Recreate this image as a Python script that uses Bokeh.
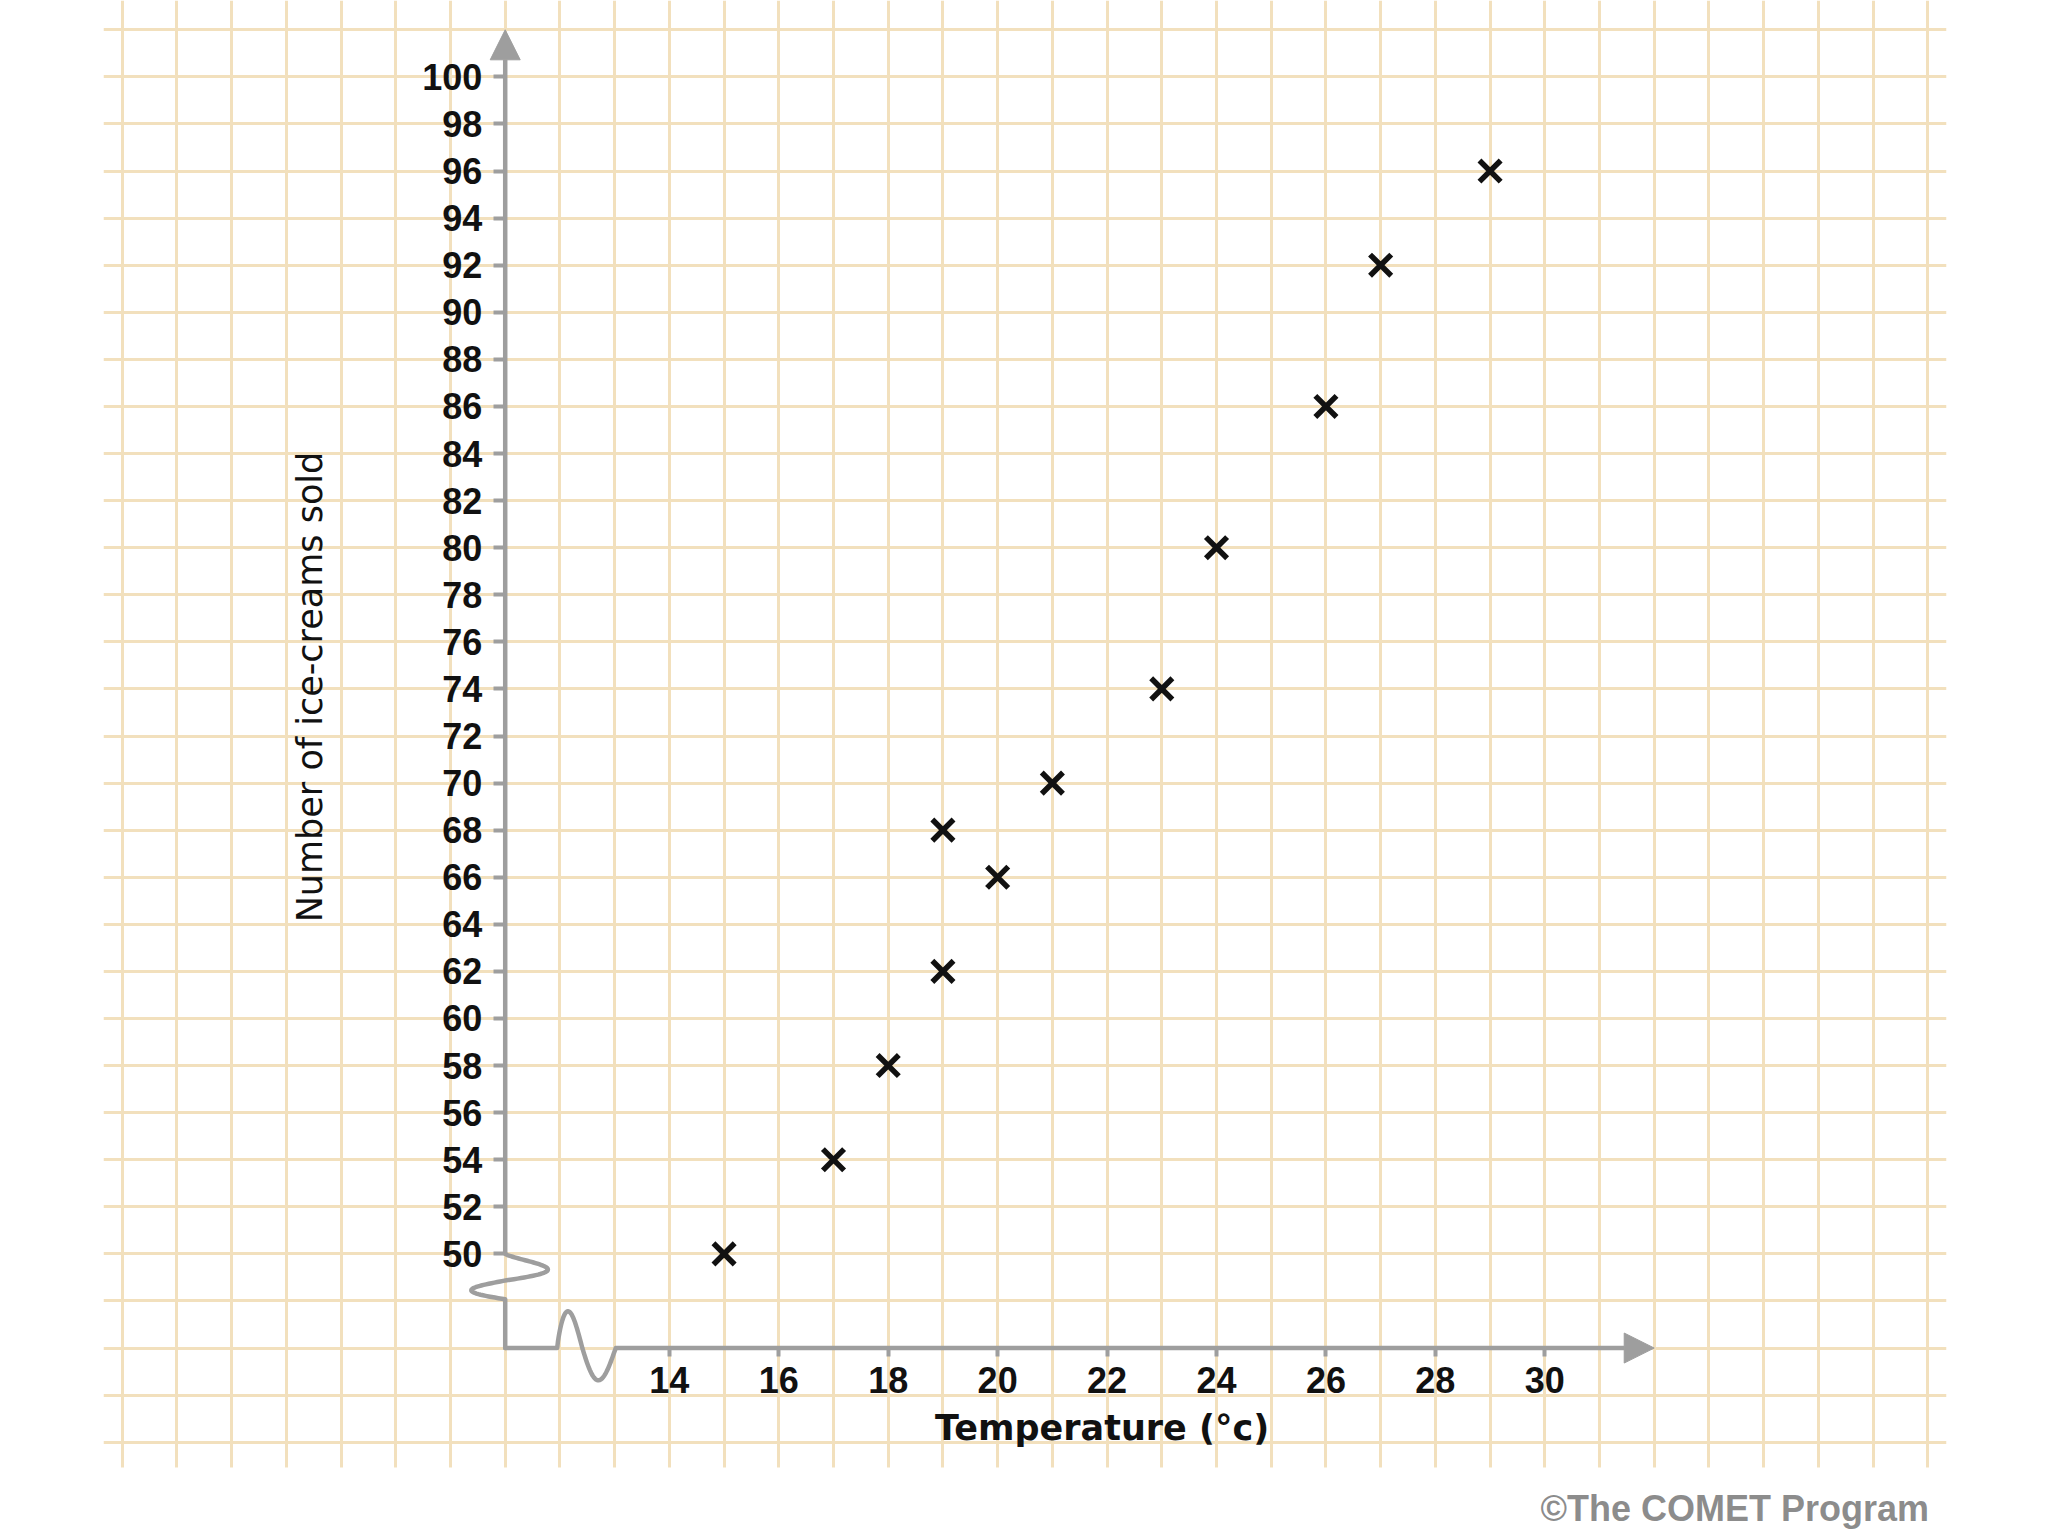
import numpy as np
from bokeh.plotting import figure
from bokeh.models import FixedTicker, Arrow, NormalHead, Label, Range1d, BoxAnnotation
from bokeh.embed import file_html
from bokeh.resources import INLINE

# ---- data ----
temperature = [15, 17, 18, 19, 19, 20, 21, 23, 24, 26, 27, 29]
ice_creams = [50, 54, 58, 62, 68, 66, 70, 74, 80, 86, 92, 96]
x_ticks = [14, 16, 18, 20, 22, 24, 26, 28, 30]
y_ticks = list(range(50, 101, 2))
x_grid = list(range(4, 38))
y_grid = list(range(42, 103, 2))
x_title = "Temperature (°c)"
y_title = "Number of ice-creams sold"
credit = "©The COMET Program"

# axis geometry (data units)
AXIS_X = 11      # where the vertical axis sits
AXIS_Y = 46      # where the horizontal axis sits
X_END = 32
Y_END = 102
Y_BREAK = (48.07, 50)
X_BREAK = (11.95, 13.02)
PAPER_BOTTOM = 40.925

AX = "#9e9e9e"
GRID = "#f2e0bd"

p = figure(width=2048, height=1536,
           x_range=Range1d(3.658, 37.342), y_range=Range1d(37.994, 103.245),
           output_backend="svg", toolbar_location=None, title=None,
           min_border_left=103, min_border_right=102,
           min_border_top=0, min_border_bottom=0)
p.background_fill_color = "white"
p.border_fill_color = "white"
p.outline_line_color = None

# grid
p.xgrid.ticker = FixedTicker(ticks=x_grid)
p.ygrid.ticker = FixedTicker(ticks=y_grid)
for g in (p.xgrid, p.ygrid):
    g.grid_line_color = GRID
    g.grid_line_width = 3
    g.grid_line_alpha = 1.0

# white strip below the graph paper
p.add_layout(BoxAnnotation(top=PAPER_BOTTOM, fill_color="white", fill_alpha=1.0,
                           line_color=None, level="underlay"))

# axes positioned inside the frame
p.xaxis.fixed_location = AXIS_Y
p.yaxis.fixed_location = AXIS_X
p.xaxis.ticker = FixedTicker(ticks=x_ticks)
p.yaxis.ticker = FixedTicker(ticks=y_ticks)
for ax in (p.xaxis, p.yaxis):
    ax.axis_line_color = None
    ax.major_tick_line_color = AX
    ax.major_tick_line_width = 4
    ax.major_tick_in = 0
    ax.minor_tick_line_color = None
    ax.major_label_text_font = "Liberation Sans"
    ax.major_label_text_font_style = "bold"
    ax.major_label_text_font_size = "36px"
    ax.major_label_text_color = "#111111"
p.xaxis.major_tick_out = 8
p.xaxis.major_label_standoff = 11
p.yaxis.major_tick_out = 12
p.yaxis.major_label_standoff = 11

# vertical axis with break squiggle
t = np.linspace(0, 1, 80)
s = t ** 1.3
sv = np.sin(2 * np.pi * s)
sq_x = AXIS_X + np.where(sv > 0, 0.78, 0.62) * sv
sq_y = Y_BREAK[1] - (Y_BREAK[1] - Y_BREAK[0]) * t
vx = [AXIS_X] + list(sq_x[::-1])
vy = [AXIS_Y] + list(sq_y[::-1])
p.line(vx, vy, line_color=AX, line_width=4.5, line_join="round", line_cap="round")
p.add_layout(Arrow(end=NormalHead(size=30, fill_color=AX, line_color=AX, line_width=1),
                   x_start=AXIS_X, y_start=Y_BREAK[1], x_end=AXIS_X, y_end=Y_END,
                   line_color=AX, line_width=4.5))

# horizontal axis with break squiggle
s2 = t ** 0.82
sh = np.sin(2 * np.pi * s2)
hx = [AXIS_X] + list(X_BREAK[0] + (X_BREAK[1] - X_BREAK[0]) * t)
hy = [AXIS_Y] + list(AXIS_Y + np.where(sh > 0, 1.56, 1.37) * sh)
p.line(hx, hy, line_color=AX, line_width=4.5, line_join="round", line_cap="round")
p.add_layout(Arrow(end=NormalHead(size=30, fill_color=AX, line_color=AX, line_width=1),
                   x_start=X_BREAK[1], y_start=AXIS_Y, x_end=X_END, y_end=AXIS_Y,
                   line_color=AX, line_width=4.5))

# points
p.scatter(temperature, ice_creams, marker="x", size=30, line_width=5.5, line_color="#111111")

# axis titles
p.add_layout(Label(x=21.91, y=42.62, text=x_title, text_font="DejaVu Sans",
                   text_font_style="bold", text_font_size="35px", text_color="#111111",
                   text_align="center", text_baseline="alphabetic"))
p.add_layout(Label(x=7.44, y=74.08, text=y_title, angle=np.pi / 2, text_font="DejaVu Sans",
                   text_font_size="35px", text_color="#111111",
                   text_align="center", text_baseline="alphabetic"))
p.add_layout(Label(x=29.92, y=39.2, text=credit, text_font="Liberation Sans",
                   text_font_style="bold", text_font_size="36px", text_color="#666666",
                   text_alpha=0.75, text_align="left", text_baseline="middle"))

open("out.html", "w").write(file_html(p, INLINE))
